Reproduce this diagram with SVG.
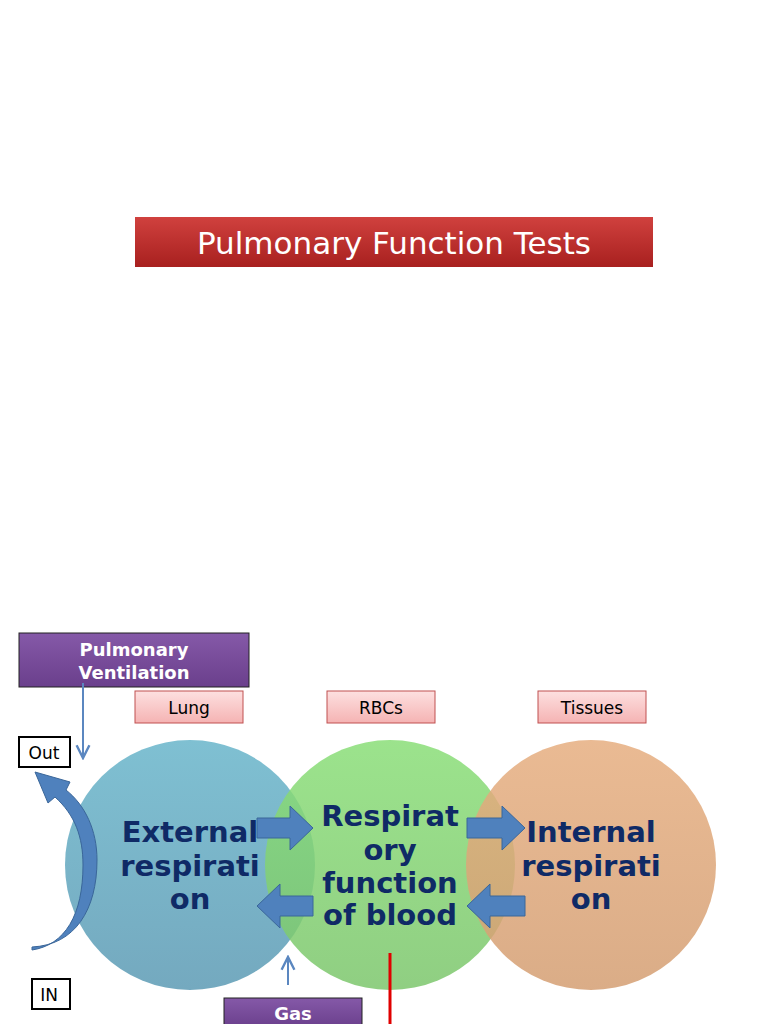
<svg xmlns="http://www.w3.org/2000/svg" width="768" height="1024" viewBox="0 0 768 1024">
<defs>
<linearGradient id="red" x1="0" y1="0" x2="0" y2="1"><stop offset="0" stop-color="#d0413e"/><stop offset="1" stop-color="#a8201f"/></linearGradient>
<linearGradient id="pur" x1="0" y1="0" x2="0" y2="1"><stop offset="0" stop-color="#8559a8"/><stop offset="1" stop-color="#6a3f8c"/></linearGradient>
<linearGradient id="pink" x1="0" y1="0" x2="0" y2="1"><stop offset="0" stop-color="#fde0e0"/><stop offset="1" stop-color="#f5b3b3"/></linearGradient>
<linearGradient id="cb" x1="0" y1="0" x2="0" y2="1"><stop offset="0" stop-color="#7fc0d2"/><stop offset="1" stop-color="#74a9bf"/></linearGradient>
<linearGradient id="cg" x1="0" y1="0" x2="0" y2="1"><stop offset="0" stop-color="#8ade78"/><stop offset="1" stop-color="#7cc66c"/></linearGradient>
<linearGradient id="co" x1="0" y1="0" x2="0" y2="1"><stop offset="0" stop-color="#e6ae80"/><stop offset="1" stop-color="#d49e72"/></linearGradient>
<marker id="open" viewBox="0 0 10 10" refX="9" refY="5" markerWidth="8" markerHeight="8" orient="auto"><path d="M1,1 L9,5 L1,9" fill="none" stroke="#5b87c0" stroke-width="1.5"/></marker>
</defs>
<style>
.sans{font-family:"DejaVu Sans",sans-serif}
.ct{font-family:"DejaVu Sans",sans-serif;font-weight:bold;font-size:29px;fill:#0f2a66;text-anchor:middle}
.lbl{font-family:"DejaVu Sans",sans-serif;font-size:17px;fill:#000;text-anchor:middle}
.pbox{fill:url(#pur);stroke:#222;stroke-width:1}
.pk{fill:url(#pink);stroke:#c05050;stroke-width:1}
.bx{fill:#fff;stroke:#000;stroke-width:2}
.ba{fill:#4f81bd;stroke:#3a6699;stroke-width:1}
</style>
<rect width="768" height="1024" fill="#fff"/>
<g id="title"><rect x="135" y="217" width="518" height="50" fill="url(#red)"/><text x="394" y="254" class="sans" font-size="31" fill="#fff" text-anchor="middle">Pulmonary Function Tests</text></g>
<g id="circles">
<g id="external"><circle cx="190" cy="865" r="125" fill="url(#cb)"/></g>
<g id="blood"><circle cx="390" cy="865" r="125" fill="url(#cg)" opacity="0.85"/></g>
<g id="internal"><circle cx="591" cy="865" r="125" fill="url(#co)" opacity="0.85"/></g>
<text x="190" y="842" class="ct">External</text><text x="190" y="876" class="ct">respirati</text><text x="190" y="909" class="ct">on</text>
<text x="390" y="826" class="ct">Respirat</text><text x="390" y="860" class="ct">ory</text><text x="390" y="893" class="ct">function</text><text x="390" y="925" class="ct">of blood</text>
<text x="591" y="842" class="ct">Internal</text><text x="591" y="876" class="ct">respirati</text><text x="591" y="909" class="ct">on</text>
</g>
<g id="pv"><rect x="19" y="633" width="230" height="54" class="pbox"/><text x="134" y="656" class="sans" font-size="18" font-weight="bold" fill="#fff" text-anchor="middle">Pulmonary</text><text x="134" y="679" class="sans" font-size="18" font-weight="bold" fill="#fff" text-anchor="middle">Ventilation</text></g>
<g id="lung"><rect x="135" y="691" width="108" height="32" class="pk"/><text x="189" y="714" class="lbl">Lung</text></g>
<g id="rbcs"><rect x="327" y="691" width="108" height="32" class="pk"/><text x="381" y="714" class="lbl">RBCs</text></g>
<g id="tissues"><rect x="538" y="691" width="108" height="32" class="pk"/><text x="592" y="714" class="lbl">Tissues</text></g>
<g id="out"><rect x="19" y="737" width="51" height="30" class="bx"/><text x="44" y="759" class="lbl">Out</text></g>
<g id="in"><rect x="32" y="979" width="38" height="30" class="bx"/><text x="49" y="1001" class="lbl">IN</text></g>
<g id="gas"><rect x="224" y="998" width="138" height="30" class="pbox"/><text x="293" y="1020" class="sans" font-size="18" font-weight="bold" fill="#fff" text-anchor="middle">Gas</text></g>
<g id="connectors">
<line x1="83" y1="683" x2="83" y2="758" stroke="#5b87c0" stroke-width="2" marker-end="url(#open)"/>
<line x1="288" y1="985" x2="288" y2="957" stroke="#5b87c0" stroke-width="2" marker-end="url(#open)"/>
<line x1="390" y1="953" x2="390" y2="1024" stroke="#e00000" stroke-width="3"/>
<path class="ba" d="M257,818 H290 V806 L313,828 L290,850 V838 H257 Z"/>
<path class="ba" d="M313,896 H280 V884 L257,906 L280,928 V916 H313 Z"/>
<path class="ba" d="M467,818 H502 V806 L525,828 L502,850 V838 H467 Z"/>
<path class="ba" d="M525,896 H490 V884 L467,906 L490,928 V916 H525 Z"/>
<path class="ba" d="M32,947 C75,945 97,910 97,860 C97,830 85,805 66,790 L70,782 L35,772 L48,803 L55,797 C75,815 83,837 83,865 C83,915 65,945 32,950 Z"/>
</g>
</svg>
